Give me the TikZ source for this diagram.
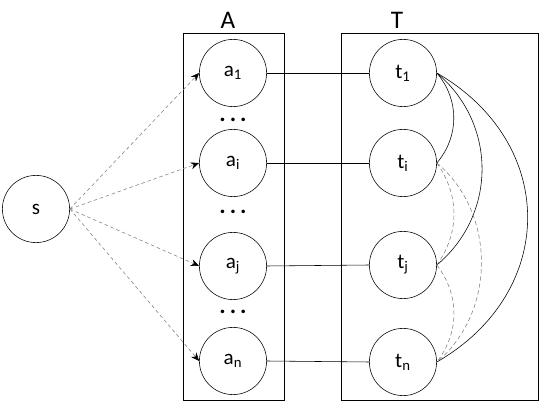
\documentclass[tikz,border=0pt]{standalone}
\usepackage{fontspec}
\setmainfont{Carlito}
\usetikzlibrary{positioning,arrows.meta}
\begin{document}
\begin{tikzpicture}[
		vertex/.style={circle,draw,minimum size=1.68cm,inner sep=0pt},
		frame/.style={draw,rectangle,inner sep=0pt},
		setlabel/.style={inner sep=0pt,font=\fontsize{18}{22}\selectfont},
		link/.style={draw,dashed,gray,dash pattern=on 2.5pt off 2pt,-{Stealth[black,length=6pt,width=5pt,inset=2pt]}},
		dotsnode/.style={inner sep=0pt,font=\bfseries\fontsize{17}{20}\selectfont}
		]
		\fontsize{15}{18}\selectfont
		\useasboundingbox (0,0) rectangle (13.5,-10.05);
		% the two sets
		\node[frame, minimum width=2.525cm, minimum height=9.175cm](A) at (5.8375,-5.4125){};
		\node[frame, minimum width=4.925cm, minimum height=9.175cm](T) at (10.9875,-5.4125){};
		\node[setlabel](labA) at (5.7,-0.5){A};
		\node[setlabel](labT) at (9.925,-0.5){T};
		% source
		\node[vertex](S) at (0.9,-5.225){s};
		% nodes of A
		\node[vertex](a1) at (5.825,-1.825){a\textsubscript{1}};
		\node[vertex, below of = a1, node distance = 2.25cm](ai){a\textsubscript{i}};
		\node[vertex, below of = ai, node distance = 2.575cm](aj){a\textsubscript{j}};
		\node[vertex, below of = aj, node distance = 2.375cm](an){a\textsubscript{n}};
		\node[dotsnode](D1) at (5.825,-3.0){.\,.\,.};
		\node[dotsnode](D2) at (5.825,-5.3){.\,.\,.};
		\node[dotsnode](D3) at (5.825,-7.8){.\,.\,.};
		% nodes of T
		\node[vertex](t1) at (10.075,-1.825){t\textsubscript{1}};
		\node[vertex, below of = t1, node distance = 2.25cm](ti){t\textsubscript{i}};
		\node[vertex, below of = ti, node distance = 2.55cm](tj){t\textsubscript{j}};
		\node[vertex, below of = tj, node distance = 2.425cm](tn){t\textsubscript{n}};
		% from s into A
		\foreach \x in {a1,ai,aj,an}
			\draw[link] (S.east) -- (\x.west);
		% A to T
		\foreach \x/\y in {a1/t1,ai/ti,aj/tj,an/tn}
			\draw (\x.east) -- (\y.west);
		% arcs inside T
		\draw (t1.east) to[bend left=40] (ti.east);
		\draw (t1.east) to[bend left=50, looseness=1.05] (tj.east);
		\draw (t1.east) to[bend left=60, looseness=1.24] (tn.east);
		\draw[dashed, gray, dash pattern=on 3pt off 2pt] (ti.east) to[bend left=35] (tj.east);
		\draw[dashed, gray, dash pattern=on 3pt off 2pt] (ti.east) to[bend left=50] (tn.east);
		\draw[dashed, gray, dash pattern=on 3pt off 2pt] (tj.east) to[bend left=37] (tn.east);
	\end{tikzpicture}
\end{document}
